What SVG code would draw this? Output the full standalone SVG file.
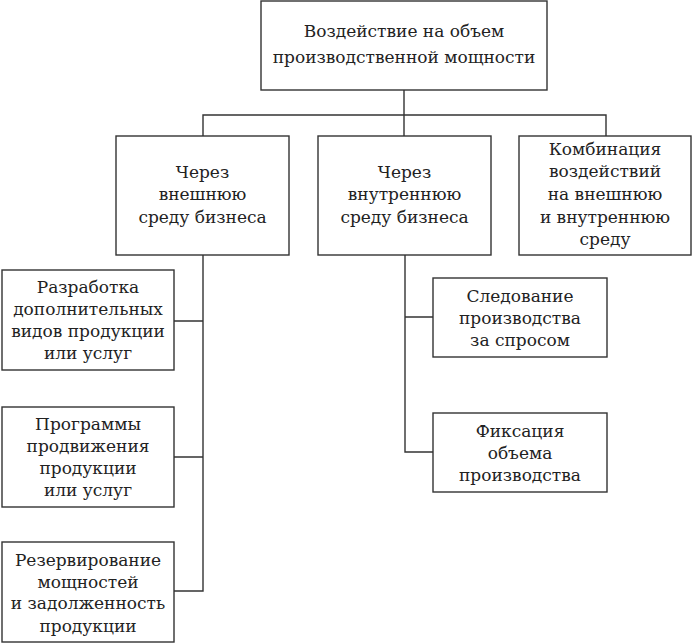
<svg xmlns="http://www.w3.org/2000/svg" width="693" height="643" viewBox="0 0 693 643">
<style>
.box{fill:#fff;stroke:#333;stroke-width:1.4}
.ln{fill:none;stroke:#333;stroke-width:1.4}
.t{font-family:'DejaVu Serif','Liberation Serif',serif;font-size:17px;fill:#222;text-anchor:middle}
</style>
<rect width="693" height="643" fill="#fff"/>
<g id="connectors">
<path class="ln" d="M404,90 V115 M203,136 V115 H606 V136 M404,115 V136"/>
<path class="ln" d="M203,255 V591 H174 M174,321 H203 M174,457 H203"/>
<path class="ln" d="M405,255 V452 H433 M405,317 H433"/>
</g>
<g id="root" class="t"><rect class="box" x="261" y="1" width="286" height="89"/>
<text x="404" y="37">Воздействие на объем</text><text x="404" y="63">производственной мощности</text></g>
<g id="external" class="t"><rect class="box" x="116" y="136" width="173" height="119"/>
<text x="202.5" y="178">Через</text><text x="202.5" y="200">внешнюю</text><text x="202.5" y="223">среду бизнеса</text></g>
<g id="internal" class="t"><rect class="box" x="318" y="136" width="173" height="119"/>
<text x="404.5" y="178">Через</text><text x="404.5" y="200">внутреннюю</text><text x="404.5" y="223">среду бизнеса</text></g>
<g id="combo" class="t"><rect class="box" x="519" y="136" width="172" height="119"/>
<text x="605" y="155">Комбинация</text><text x="605" y="177">воздействий</text><text x="605" y="200">на внешнюю</text><text x="605" y="223">и внутреннюю</text><text x="605" y="245">среду</text></g>
<g id="l1" class="t"><rect class="box" x="2" y="270" width="172" height="100"/>
<text x="88" y="293">Разработка</text><text x="88" y="315">дополнительных</text><text x="88" y="337">видов продукции</text><text x="88" y="359">или услуг</text></g>
<g id="l2" class="t"><rect class="box" x="2" y="407" width="172" height="100"/>
<text x="88" y="430">Программы</text><text x="88" y="452">продвижения</text><text x="88" y="474">продукции</text><text x="88" y="496">или услуг</text></g>
<g id="l3" class="t"><rect class="box" x="2" y="542" width="172" height="100"/>
<text x="88" y="566">Резервирование</text><text x="88" y="588">мощностей</text><text x="88" y="609">и задолженность</text><text x="88" y="632">продукции</text></g>
<g id="r1" class="t"><rect class="box" x="433" y="278" width="174" height="79"/>
<text x="520" y="302">Следование</text><text x="520" y="324">производства</text><text x="520" y="346">за спросом</text></g>
<g id="r2" class="t"><rect class="box" x="433" y="413" width="174" height="79"/>
<text x="520" y="437">Фиксация</text><text x="520" y="459">объема</text><text x="520" y="481">производства</text></g>
</svg>
